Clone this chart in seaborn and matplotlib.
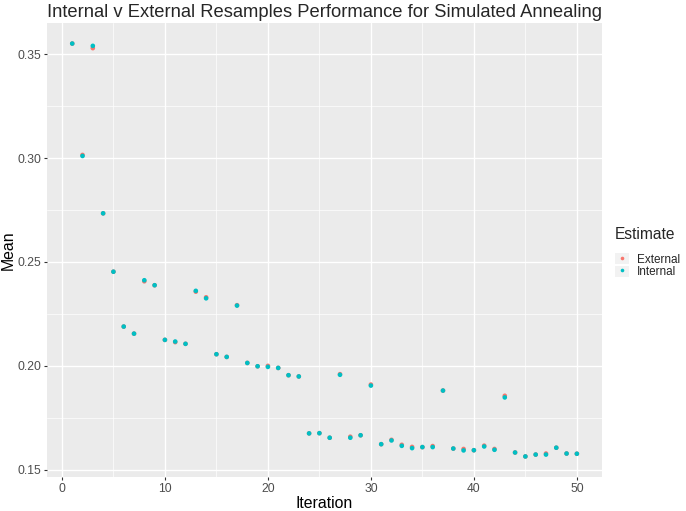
import numpy as np
import pandas as pd
import matplotlib
matplotlib.use('Agg')
import matplotlib.pyplot as plt
import seaborn as sns
from matplotlib.ticker import MultipleLocator
from matplotlib.patches import Patch
from matplotlib.legend_handler import HandlerTuple

iteration = list(range(1, 51))
internal = [0.3551, 0.3010, 0.3540, 0.2734, 0.2453, 0.2189, 0.2155, 0.2412, 0.2388, 0.2125,
            0.2117, 0.2106, 0.2361, 0.2325, 0.2056, 0.2043, 0.2290, 0.2014, 0.1998, 0.1995,
            0.1990, 0.1955, 0.1949, 0.1675, 0.1676, 0.1654, 0.1957, 0.1654, 0.1666, 0.1905,
            0.1623, 0.1641, 0.1615, 0.1604, 0.1609, 0.1609, 0.1881, 0.1602, 0.1593, 0.1594,
            0.1612, 0.1596, 0.1848, 0.1583, 0.1564, 0.1573, 0.1573, 0.1606, 0.1578, 0.1577]
external = [0.3551, 0.3015, 0.3529, 0.2734, 0.2453, 0.2189, 0.2155, 0.2407, 0.2388, 0.2125,
            0.2114, 0.2106, 0.2357, 0.2330, 0.2056, 0.2043, 0.2292, 0.2014, 0.1998, 0.2000,
            0.1990, 0.1955, 0.1949, 0.1675, 0.1676, 0.1654, 0.1960, 0.1659, 0.1666, 0.1910,
            0.1623, 0.1644, 0.1620, 0.1610, 0.1609, 0.1614, 0.1881, 0.1602, 0.1600, 0.1594,
            0.1616, 0.1600, 0.1856, 0.1583, 0.1564, 0.1573, 0.1578, 0.1606, 0.1578, 0.1577]

df = pd.DataFrame({
    'Iteration': iteration * 2,
    'Mean': external + internal,
    'Estimate': ['External'] * 50 + ['Internal'] * 50,
})

sns.set_style('darkgrid', {'axes.facecolor': '#EBEBEB', 'grid.color': 'white'})
plt.rcParams['font.family'] = ['Liberation Sans', 'DejaVu Sans']

fig = plt.figure(figsize=(6.86, 5.11), dpi=100)
ax = fig.add_axes([0.0685, 0.0665, 0.8092, 0.8885])
palette = {'External': '#F8766D', 'Internal': '#00BFC4'}
sns.scatterplot(data=df, x='Iteration', y='Mean', hue='Estimate', palette=palette,
                s=11, linewidth=0, ax=ax, legend=False, zorder=3)

ax.set_xlim(-1.45, 52.45)
ax.set_ylim(0.1465, 0.3650)
ax.set_xticks([0, 10, 20, 30, 40, 50])
ax.set_yticks([0.15, 0.20, 0.25, 0.30, 0.35])
ax.set_yticklabels(['0.15', '0.20', '0.25', '0.30', '0.35'])
ax.xaxis.set_minor_locator(MultipleLocator(5))
ax.yaxis.set_minor_locator(MultipleLocator(0.025))
ax.grid(which='major', color='white', linewidth=1.0)
ax.grid(which='minor', color='white', linewidth=0.5)
ax.set_axisbelow(True)
for sp in ax.spines.values():
    sp.set_visible(False)
ax.tick_params(which='major', length=2.5, width=0.8, color='#333333',
               labelsize=8.7, labelcolor='#4D4D4D', pad=1.5, direction='out',
               bottom=True, left=True)
ax.tick_params(which='minor', length=0)

ax.set_xlabel('Iteration', fontsize=11.4, color='black', labelpad=1)
ax.set_ylabel('Mean', fontsize=11.4, color='black', labelpad=1)
ax.set_title('Internal v External Resamples Performance for Simulated Annealing',
             fontsize=13.2, loc='left', x=0.0, pad=4)

handles = [(Patch(facecolor='#F2F2F2', edgecolor='none'),
            plt.Line2D([], [], marker='o', linestyle='', markersize=2.6,
                       markerfacecolor=palette[k], markeredgewidth=0))
           for k in ['External', 'Internal']]
leg = fig.legend(handles=handles, labels=['External', 'Internal'], title='Estimate',
                 handler_map={tuple: HandlerTuple(ndivide=1)},
                 loc='upper left', bbox_to_anchor=(615 / 686, 1 - 227 / 511),
                 frameon=False, fontsize=8.5, title_fontsize=11.2,
                 handlelength=1.2, handleheight=1.05, handletextpad=0.65,
                 labelspacing=0.0, borderaxespad=0, borderpad=0)
leg._legend_box.align = 'left'
leg._legend_box.sep = 8

fig.savefig('out.png', dpi=100)
